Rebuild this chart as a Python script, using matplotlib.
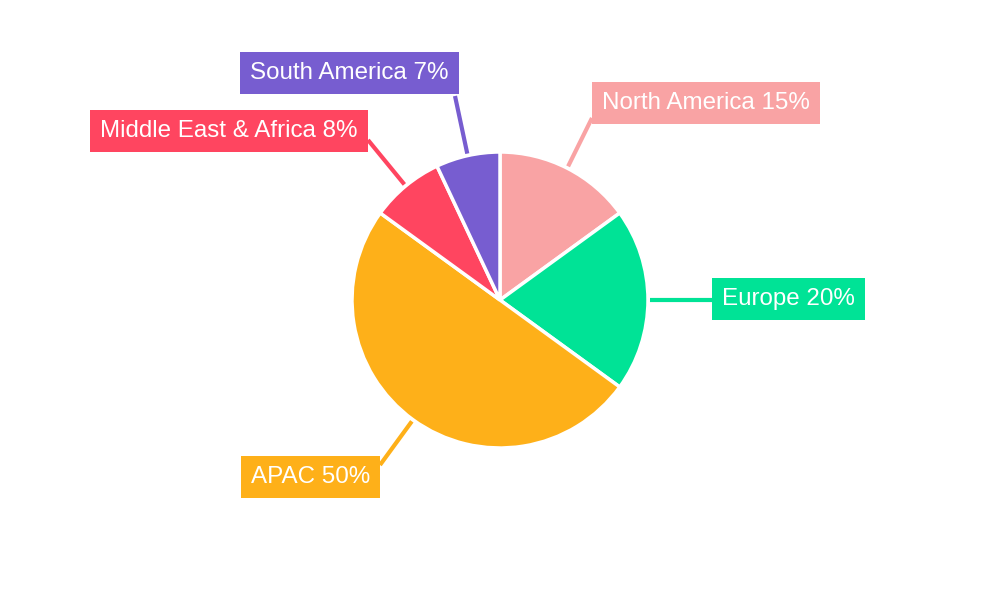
import numpy as np
import matplotlib.pyplot as plt

regions = ["North America", "Europe", "APAC", "Middle East & Africa", "South America"]
shares = [15, 20, 50, 8, 7]
colors = ["#F9A3A4", "#00E396", "#FEB019", "#FF4560", "#775DD0"]

# label box anchor (pixels, y down) and horizontal alignment
label_pos = [(602, 103, "left"), (722, 299, "left"), (370, 477, "right"),
             (358, 131, "right"), (250, 73, "left")]
line_end = [(592, 118), (712, 300), (380, 465), (368, 140), (455, 96)]

plt.rcParams["font.family"] = ["Liberation Sans", "DejaVu Sans"]
fig = plt.figure(figsize=(10, 6), dpi=100)
ax = fig.add_axes([0, 0, 1, 1])

cx, cy, r = 500, 300, 148
ax.pie(shares, colors=colors, startangle=90, counterclock=False,
       center=(cx, cy), radius=r, frame=True,
       wedgeprops=dict(edgecolor="white", linewidth=2.5))
ax.set_xlim(0, 1000)
ax.set_ylim(0, 600)
ax.axis("off")

start = 0
for name, s, c, (lx, ly, ha), (ex, ey) in zip(regions, shares, colors, label_pos, line_end):
    mid = np.deg2rad((start + s / 2) * 3.6)
    start += s
    x0 = cx + (r + 2) * np.sin(mid)
    y0 = cy + (r + 2) * np.cos(mid)
    ax.plot([x0, ex], [y0, 600 - ey], color=c, lw=3, solid_capstyle="butt")
    ax.text(lx, 600 - ly, f"{name} {s}%", ha=ha, va="center", color="white",
            fontsize=17.4, bbox=dict(boxstyle="square,pad=0.42", fc=c, ec="none"))

fig.savefig("out.png", dpi=100)
